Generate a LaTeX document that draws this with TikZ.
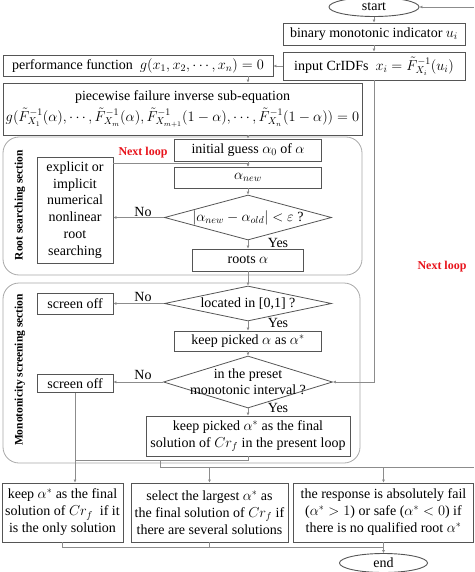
\documentclass[tikz,border=0pt]{standalone}
\usepackage{fontspec}
\setmainfont{Liberation Serif}
\usetikzlibrary{shapes.geometric,arrows.meta}
\definecolor{boxc}{HTML}{555555}
\definecolor{linec}{HTML}{8C8C8C}
\definecolor{secc}{HTML}{A8A8A8}
\definecolor{redc}{HTML}{E8141C}
\begin{document}
\begin{tikzpicture}[x=1pt,y=-1pt,
  every node/.style={font=\fontsize{14}{17}\selectfont},
  box/.style={draw=boxc, line width=0.9pt, rectangle, align=center, inner sep=1pt},
  term/.style={draw=boxc, line width=0.9pt, ellipse, inner sep=0pt},
  dec/.style={draw=boxc, line width=0.8pt, diamond, inner sep=0pt},
  dlabel/.style={align=center, inner sep=0pt, font=\fontsize{14}{16}\selectfont},
  conn/.style={draw=linec, line width=0.8pt, -{Latex[length=3pt,width=3pt]}},
  plainline/.style={draw=linec, line width=0.8pt},
  sect/.style={draw=secc, line width=0.8pt, rounded corners=16pt},
  yn/.style={inner sep=0pt},
  nextl/.style={text=redc, inner sep=0pt, font=\fontsize{12}{14}\selectfont\bfseries},
  seclab/.style={rotate=90, inner sep=0pt, font=\fontsize{11.5}{13}\selectfont\bfseries},
]
\useasboundingbox (0,0) rectangle (474,572);

% sections
\draw[sect] (3,137) rectangle (362,275);
\draw[sect] (3,283) rectangle (360,463);
\node[seclab] (lab1) at (20,205) {Root searching section};
\node[seclab] (lab2) at (20,370) {Monotonicity screening section};

% top nodes
\node[term, minimum width=90pt, minimum height=19pt] (start) at (374,7) {start};
\node[box, minimum width=182pt, minimum height=22pt] (bin) at (374,34) {binary monotonic indicator $u_i$};
\node[box, minimum width=182pt, minimum height=28pt] (input) at (374,66) {input CrIDFs\ \ $x_i={\tilde F}_{X_i}^{-1}(u_i)$};
\node[box, minimum width=270pt, minimum height=21pt] (perf) at (138,65.5) {performance function\ \ $g(x_1,x_2,\cdots,x_n)=0$};
\node[box, minimum width=359pt, minimum height=52pt] (piece) at (182.5,109) {piecewise failure inverse sub-equation\\[4pt]
  $g\Bigl({\tilde F}_{X_1}^{-1}(\alpha),\cdots,{\tilde F}_{X_m}^{-1}(\alpha),{\tilde F}_{X_{m+1}}^{-1}(1-\alpha),\cdots,{\tilde F}_{X_n}^{-1}(1-\alpha)\Bigr)=0$};

% root searching section
\node[box, minimum width=147pt, minimum height=22pt] (init) at (248,150) {initial guess $\alpha_0$ of $\alpha$};
\node[nextl] (next1) at (143,153) {Next loop};
\node[box, minimum width=76pt, minimum height=106pt, font=\fontsize{14}{16.7}\selectfont] (explicit) at (75,210) {explicit or\\implicit\\numerical\\nonlinear\\root\\searching};
\node[box, minimum width=147pt, minimum height=21pt] (anew) at (248,177.5) {$\alpha_{new}$};
\node[dec, minimum width=167pt, minimum height=45pt,
  label={[dlabel]center:$|\alpha_{new}-\alpha_{old}|<\varepsilon$ ?}] (dia1) at (248,217.5) {};
\node[yn] (no1) at (143,212) {No};
\node[yn] (yes1) at (278,243) {Yes};
\node[box, minimum width=111pt, minimum height=22pt] (roots) at (248,260) {roots $\alpha$};
\node[nextl] (next2) at (442,267) {Next loop};

% monotonicity screening section
\node[dec, minimum width=167pt, minimum height=35pt,
  label={[dlabel]center:located in [0,1] ?}] (dia2) at (248,303.5) {};
\node[box, minimum width=76pt, minimum height=21pt] (scr1) at (75,303.5) {screen off};
\node[yn] (no2) at (143,297) {No};
\node[yn] (yes2) at (278,323) {Yes};
\node[box, minimum width=147pt, minimum height=20pt] (keep1) at (248,341) {keep picked $\alpha$ as $\alpha^*$};
\node[dec, minimum width=169pt, minimum height=52pt,
  label={[dlabel]center:in the preset\\monotonic interval ?}] (dia3) at (248,382) {};
\node[box, minimum width=76pt, minimum height=18pt] (scr2) at (75,383.5) {screen off};
\node[yn] (no3) at (143,375) {No};
\node[yn] (yes3) at (278,408) {Yes};
\node[box, minimum width=204pt, minimum height=40pt] (keepfin) at (248,436) {keep picked $\alpha^*$ as the final\\solution of $Cr_f$\ in the present loop};

% bottom boxes
\node[box, minimum width=121pt, minimum height=59pt] (left) at (62.5,512.5) {keep $\alpha^*$ as the final\\solution of $Cr_f$\ \ if it\\is the only solution};
\node[box, minimum width=157pt, minimum height=59pt] (mid) at (209.5,512.5) {select the largest $\alpha^*$ as\\the final solution of $Cr_f$ if\\there are several solutions};
\node[box, minimum width=180pt, minimum height=59pt] (right) at (383.5,512.5) {the response is absolutely fail\\($\alpha^*>1$) or safe ($\alpha^*<0$) if\\there is no qualified root $\alpha^*$};
\node[term, minimum width=88pt, minimum height=19pt] (end) at (383.5,563) {end};

% junction coordinates
\coordinate (loopT) at (474,7);
\coordinate (jA) at (75,460);
\coordinate (jB) at (160,460);
\coordinate (busA) at (474,467);
\coordinate (busB) at (383.5,547);

% connectors
\draw[conn] (loopT) -- (start.east);
\draw[conn] (start) -- (bin);
\draw[conn] (bin) -- (input);
\draw[conn] (input.west) -- (input.west -| perf.east);
\draw[conn] (perf.south -| init) -- (piece.north -| init);
\draw[conn] (piece.south -| init) -- (init.north);
\draw[conn] (init) -- (anew);
\draw[conn] ([yshift=-7pt]explicit.north east) -| (anew.north);
\draw[conn] (anew) -- (dia1);
\draw[conn] (dia1.west) -- (dia1.west -| explicit.east);
\draw[conn] (dia1.south) -- (roots.north);
\draw[conn] (roots.south) -- (dia2.north);
\draw[conn] (dia2.west) -- (dia2.west -| scr1.east);
\draw[conn] (dia2.south) -- (keep1.north);
\draw[conn] (keep1) -- (dia3);
\draw[conn] (dia3.west) -- (dia3.west -| scr2.east);
\draw[conn] (dia3.south) -- (keepfin.north);
\draw[conn] (input.south) |- (dia3.east);
\draw[conn] (scr2.south) -- (scr2.south |- left.north);
\draw[plainline] (keepfin.south -| init) |- (jA);
\draw[plainline] (jB) |- (busA);
\draw[conn] (mid.north |- busA) -- (mid.north);
\draw[conn] (right.north |- busA) -- (right.north);
\draw[plainline] (left.south) |- (busB);
\draw[plainline] (mid.south) -- (mid.south |- busB);
\draw[conn] (right.south) -- (end.north);
\end{tikzpicture}
\end{document}
